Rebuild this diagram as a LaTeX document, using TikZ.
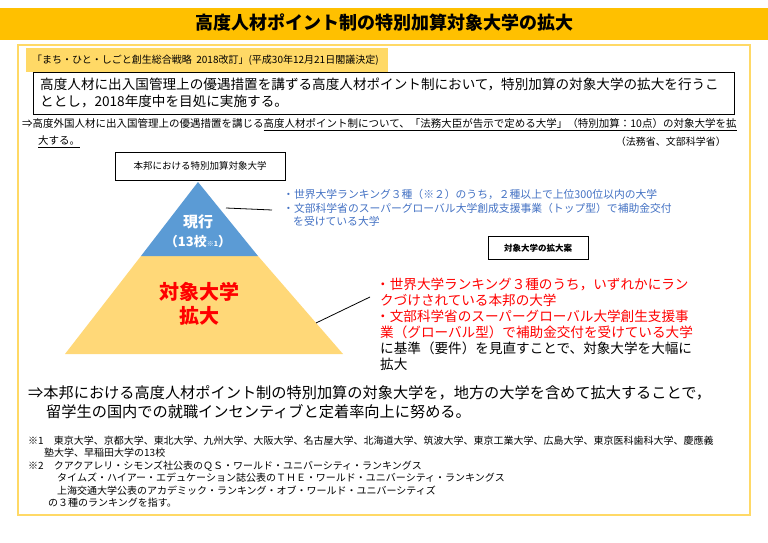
\documentclass[tikz,border=0pt]{standalone}
\usepackage{fontspec}
\setmainfont{Noto Sans CJK JP}
\definecolor{gold}{HTML}{FFC000}
\definecolor{lgold}{HTML}{FFD966}
\definecolor{pyel}{HTML}{FFD878}
\definecolor{pblue}{HTML}{5B9BD5}
\definecolor{tblue}{HTML}{4472C4}
\definecolor{tred}{HTML}{FF0000}
\tikzset{txt/.style={anchor=west,inner sep=0pt},
 fs/.style={font=\fontsize{#1}{#1}\selectfont}}
\begin{document}
\begin{tikzpicture}[x=1pt,y=-1pt]
\useasboundingbox (0,0) rectangle (768,543);
\fill[white] (0,0) rectangle (768,543);
\fill[gold] (0,8) rectangle (768,40);
\node[fs=18] (title) at (384,23) {\textbf{高度人材ポイント制の特別加算対象大学の拡大}};
\draw[lgold,line width=1.5pt] (18,45) rectangle (750,515);
\fill[lgold] (26,48) rectangle (388,72);
\node[txt,fs=10] (lab) at (32,60) {「まち・ひと・しごと創生総合戦略\ \ 2018改訂」(平成30年12月21日閣議決定)};
\draw[line width=0.8pt] (33,72) rectangle (734,114);
\node[txt,fs=13.6] (m1) at (40,84) {高度人材に出入国管理上の優遇措置を講ずる高度人材ポイント制において，特別加算の対象大学の拡大を行うこ};
\node[txt,fs=13.6] (m2) at (40,101) {ととし，2018年度中を目処に実施する。};
\node[txt,fs=10.5] (a1) at (22,125) {⇒高度外国人材に出入国管理上の優遇措置を講じる\underline{高度人材ポイント制について、「法務大臣が告示で定める大学」（特別加算：10点）の対象大学を拡}};
\node[txt,fs=10.5] (a2) at (38,142) {\underline{大する。}};
\node[anchor=east,inner sep=0pt,fs=10] (a3) at (726,142) {（法務省、文部科学省）};
\node[draw,line width=0.6pt,minimum width=170,minimum height=28,fs=9.5] (hb) at (200,166) {本邦における特別加算対象大学};
\coordinate (ap) at (198,182);
\coordinate (bl) at (141,256);
\coordinate (br) at (258,256);
\coordinate (cl) at (65,354);
\coordinate (cr) at (343,354);
\fill[pyel] (bl) -- (br) -- (cr) -- (cl) -- cycle;
\fill[pblue] (ap) -- (br) -- (bl) -- cycle;
\node[white,fs=15] (g1) at (198,222) {\textbf{現行}};
\node[white,fs=13] (g2) at (198,242) {\textbf{（13校{\fontsize{7}{7}\selectfont ※1}）}};
\node[tred,fs=20] (r1) at (199,292) {\textbf{対象大学}};
\node[tred,fs=20] (r2) at (199,316) {\textbf{拡大}};
\node[txt,tblue,fs=10.8] (b1) at (283,194) {・世界大学ランキング３種（※２）のうち，２種以上で上位300位以内の大学};
\node[txt,tblue,fs=10.8] (b2) at (283,208) {・文部科学省のスーパーグローバル大学創成支援事業（トップ型）で補助金交付};
\node[txt,tblue,fs=10.8] (b3) at (293,221) {を受けている大学};
\draw[line width=0.8pt] (226,208) -- (272,210);
\node[draw,line width=0.6pt,minimum width=100,minimum height=23,fs=8.5] (kb) at (538,248) {\textbf{対象大学の拡大案}};
\node[txt,tred,fs=13.6] (c1) at (376,284) {・世界大学ランキング３種のうち，いずれかにラン};
\node[txt,tred,fs=13.6] (c2) at (380,300) {クづけされている本邦の大学};
\node[txt,tred,fs=13.6] (c3) at (376,316) {・文部科学省のスーパーグローバル大学創生支援事};
\node[txt,tred,fs=13.6] (c4) at (380,332) {業（グローバル型）で補助金交付を受けている大学};
\node[txt,fs=13.6] (c5) at (380,348) {に基準（要件）を見直すことで、対象大学を大幅に};
\node[txt,fs=13.6] (c6) at (380,364) {拡大};
\draw[line width=0.8pt] (316,323) -- (370,297);
\node[txt,fs=15.2] (e1) at (28,393) {⇒本邦における高度人材ポイント制の特別加算の対象大学を，地方の大学を含めて拡大することで，};
\node[txt,fs=15.2] (e2) at (46,412) {留学生の国内での就職インセンティブと定着率向上に努める。};
\node[txt,fs=10] (f1) at (28,441) {※1\quad 東京大学、京都大学、東北大学、九州大学、大阪大学、名古屋大学、北海道大学、筑波大学、東京工業大学、広島大学、東京医科歯科大学、慶應義};
\node[txt,fs=10] (f2) at (44,453) {塾大学、早稲田大学の13校};
\node[txt,fs=10] (f3) at (28,466) {※2\quad クアクアレリ・シモンズ社公表のＱＳ・ワールド・ユニバーシティ・ランキングス};
\node[txt,fs=10] (f4) at (57,478) {タイムズ・ハイアー・エデュケーション誌公表のＴＨＥ・ワールド・ユニバーシティ・ランキングス};
\node[txt,fs=10] (f5) at (57,491) {上海交通大学公表のアカデミック・ランキング・オブ・ワールド・ユニバーシティズ};
\node[txt,fs=10] (f6) at (48,503) {の３種のランキングを指す。};
\end{tikzpicture}
\end{document}
